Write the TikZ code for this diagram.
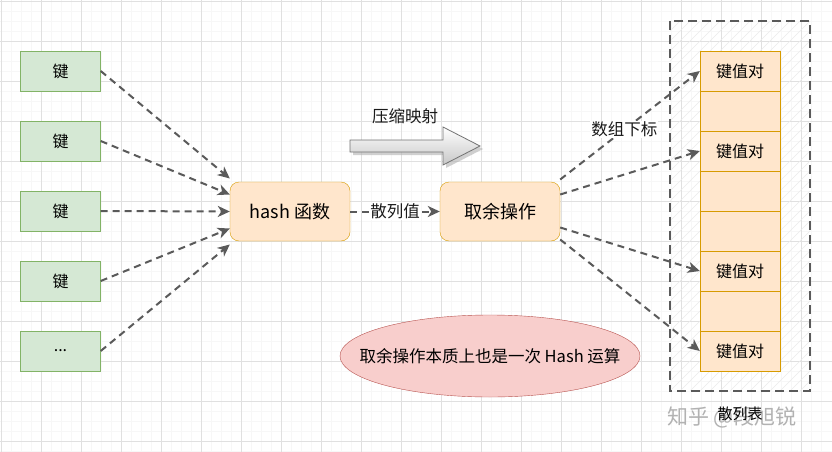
\documentclass[tikz,border=0pt]{standalone}
\usepackage{fontspec}
\setmainfont{Noto Sans CJK SC}
\usepackage{tikz}
\usetikzlibrary{arrows.meta,shapes.geometric}

\definecolor{keyfill}{HTML}{D5E8D4}
\definecolor{keydraw}{HTML}{82B366}
\definecolor{funcfill}{HTML}{FFE6CC}
\definecolor{funcdraw}{HTML}{D79B00}
\definecolor{notefill}{HTML}{F8CECC}
\definecolor{notedraw}{HTML}{B85450}
\definecolor{linegray}{HTML}{5A5A5A}

\newcommand{\keydots}{...}

\tikzset{
  keybox/.style={draw=keydraw, fill=keyfill, minimum width=80pt, minimum height=40pt, inner sep=0pt, font=\fontsize{16}{18}\selectfont},
  funcbox/.style={draw=funcdraw, fill=funcfill, rounded corners=9pt, minimum width=120pt, minimum height=59pt, inner sep=0pt, font=\fontsize{18}{20}\selectfont},
  cellbox/.style={draw=funcdraw, fill=funcfill, minimum width=80pt, minimum height=40pt, inner sep=0pt, font=\fontsize{16}{18}\selectfont},
  flow/.style={draw=linegray, line width=2pt, dash pattern=on 7pt off 5pt, -{Stealth[length=12pt,width=11pt,inset=3.5pt]}},
  lbl/.style={font=\fontsize{16.5}{19}\selectfont, text=black!90}
}

\begin{document}
\begin{tikzpicture}[x=1pt,y=-1pt]
  \useasboundingbox (0,0) rectangle (832,452);
  \fill[white] (0,0) rectangle (832,452);

  % grid
  \foreach \x in {1.7,11.7,...,831} {
    \draw[black!3, line width=0.5pt] (\x,0) -- (\x,452);
  }
  \foreach \y in {1,11,...,451} {
    \draw[black!3, line width=0.5pt] (0,\y) -- (832,\y);
  }
  \foreach \x in {1.7,41.7,...,831} {
    \draw[black!12, line width=0.8pt] (\x,0) -- (\x,452);
  }
  \foreach \y in {1,41,...,451} {
    \draw[black!12, line width=0.8pt] (0,\y) -- (832,\y);
  }

  % hash table frame
  \node[minimum width=140pt, minimum height=370pt, inner sep=0pt] (table) at (740,206) {};
  \begin{scope}
    \clip (table.north west) rectangle (table.south east);
    \foreach \h in {670,680,...,1180} {
      \draw[black!8, line width=0.6pt] (\h-370,391) -- (\h,21);
    }
  \end{scope}
  \draw[linegray, line width=2.5pt, dash pattern=on 9pt off 5pt] (table.north west) rectangle (table.south east);

  \foreach \j/\t in {1/键值对,2/,3/键值对,4/,5/,6/键值对,7/,8/键值对} {
    \node[cellbox] (c\j) at (740,31+40*\j) {\t};
  }

  % keys
  \foreach \i/\t/\y in {1/键/71,2/键/141,3/键/211,4/键/281,5/\keydots/351} {
    \node[keybox] (k\i) at (60.5,\y) {\t};
  }

  \node[funcbox] (hash) at (290,211.5) {hash 函数};
  \node[funcbox] (mod) at (500,211.5) {取余操作};

  \foreach \i/\s in {1/33pt,2/17pt,3/0pt,4/-17pt,5/-33pt} {
    \draw[flow] (k\i.east) -- ([yshift=\s]hash.west);
  }

  \draw[flow] (hash.east) -- (mod.west)
    node[midway, fill=white, inner sep=1pt, lbl] {散列值};

  \draw[flow] ([yshift=32pt]mod.east) -- (c1.west)
    node[pos=0.46, fill=white, inner sep=1pt, lbl] {数组下标};
  \draw[flow] ([yshift=17pt]mod.east) -- (c3.west);
  \draw[flow] ([yshift=-16pt]mod.east) -- (c6.west);
  \draw[flow] ([yshift=-28pt]mod.east) -- (c8.west);

  % compression arrow
  \fill[black!30, opacity=0.6] (353,143) -- (446,143) -- (446,130) -- (483,149) -- (446,168) -- (446,155) -- (353,155) -- cycle;
  \draw[draw=black!55, top color=white, bottom color=black!22, line width=0.8pt]
    (350,140) -- (443,140) -- (443,127) -- (480,146) -- (443,165) -- (443,152) -- (350,152) -- cycle;
  \node[lbl] (squeeze) at (405,116) {压缩映射};

  % note
  \node[ellipse, draw=notedraw, fill=notefill, minimum width=300pt, minimum height=82pt, inner sep=0pt] (note) at (490,356) {};
  \node[lbl, text=black] at (note.center) {取余操作本质上也是一次 Hash 运算};

  \node[text=black!30, font=\fontsize{21}{24}\selectfont] (mark) at (732,417) {知乎 @段旭锐};
  \node[font=\fontsize{15}{18}\selectfont] (tname) at (740,414) {散列表};

\end{tikzpicture}
\end{document}
